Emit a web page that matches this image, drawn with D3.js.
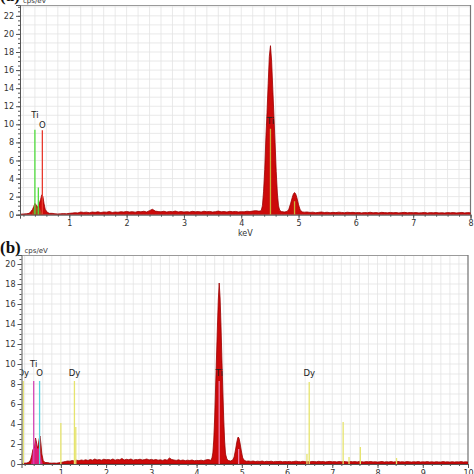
<!DOCTYPE html>
<html>
<head>
<meta charset="utf-8">
<script src="https://cdn.jsdelivr.net/npm/d3@7"></script>
<style>
  body { margin: 0; background: #fff; }
  svg { display: block; font-family: "DejaVu Sans", sans-serif; }
</style>
</head>
<body>
<svg id="chart" width="474" height="474"></svg>
<script>
// EDS spectra, panel (a) and panel (b)

// tick labels
const yTicksA = [0, 2, 4, 6, 8, 10, 12, 14, 16, 18, 20, 22];
const xTicksA = [1, 2, 3, 4, 5, 6, 7, 8];
const yTicksB = [0, 2, 4, 6, 8, 10, 12, 14, 16, 18, 20];
const xTicksB = [1, 2, 3, 4, 5, 6, 7, 8, 9, 10];

// background counts, every 0.05 keV from 0.15 keV (null = inside a peak)
const bgStart = 0.15, bgStep = 0.05;
const bgA = [
  0.05, 0.08, 0.1, 0.15,
  null, null, null, null, null, null, null,
  0.15, 0.1, 0.08, 0.1, 0.12, 0.1, 0.15,
  0.18, 0.22, 0.2, 0.3, 0.25, 0.28, 0.22, 0.3, 0.26, 0.32, 0.24, 0.3, 0.28, 0.35, 0.25, 0.3, 0.27, 0.33, 0.3, 0.36,
  0.3, 0.34, 0.28, 0.36, 0.32, 0.38, 0.3, 0.45, 0.6, 0.4, 0.35, 0.32, 0.38, 0.3, 0.36, 0.33, 0.4, 0.31, 0.35, 0.3,
  0.34, 0.3, 0.37, 0.32, 0.35, 0.3, 0.38, 0.33, 0.36, 0.3, 0.34, 0.4, 0.32, 0.35, 0.3, 0.37, 0.33, 0.36, 0.31, 0.34,
  0.32, 0.38, 0.35, 0.4, 0.45,
  null, null, null, null, null, null, null, null, null, null, null, null, null, null, null, null, null,
  0.3, 0.25, 0.28, 0.22, 0.26, 0.3, 0.24, 0.27, 0.22, 0.26, 0.23, 0.28, 0.25, 0.22, 0.27, 0.24, 0.26, 0.22,
  0.25, 0.2, 0.24, 0.22, 0.27, 0.21, 0.24, 0.2, 0.26, 0.23, 0.21, 0.25, 0.22, 0.24, 0.2, 0.23, 0.26, 0.21, 0.24, 0.22,
  0.23, 0.2, 0.22, 0.25, 0.19, 0.23, 0.21, 0.24, 0.2, 0.22, 0.19, 0.23, 0.21, 0.24, 0.2, 0.22, 0.25, 0.2, 0.23, 0.21
];
const bgB = [
  0.05, 0.08, 0.1, 0.2,
  null, null, null, null, null, null, null,
  0.15, 0.1, 0.08, 0.1, 0.08, 0.12, 0.15,
  0.2, 0.25, 0.3, 0.28, 0.35, 0.3, 0.38, 0.32, 0.4, 0.36, 0.42, 0.35, 0.45, 0.38, 0.5, 0.4, 0.44, 0.38, 0.48, 0.42,
  0.45, 0.4, 0.5, 0.38, 0.46, 0.42, 0.55, 0.4, 0.47, 0.43, 0.5, 0.38, 0.45, 0.42, 0.48, 0.4, 0.44, 0.5, 0.41, 0.46,
  0.4, 0.45, 0.38, 0.42, 0.36, 0.44, 0.38, 0.6, 0.45, 0.4, 0.36, 0.42, 0.35, 0.4, 0.33, 0.38, 0.35, 0.4, 0.32, 0.36,
  0.34, 0.38, 0.33, 0.4, 0.45,
  null, null, null, null, null, null, null, null, null, null, null, null, null, null, null, null, null,
  0.3, 0.26, 0.3, 0.24, 0.28, 0.25, 0.3, 0.23, 0.27, 0.24, 0.28, 0.22, 0.26, 0.24, 0.27, 0.22, 0.25, 0.23,
  0.26, 0.22, 0.25, 0.28, 0.24, 0.22, 0.27, 0.23, 0.25, 0.21, 0.26, 0.24, 0.22, 0.27, 0.23, 0.25, 0.21, 0.24, 0.26, 0.22,
  0.24, 0.21, 0.25, 0.22, 0.26, 0.23, 0.2, 0.25, 0.22, 0.24, 0.21, 0.26, 0.23, 0.2, 0.24, 0.22, 0.25, 0.21, 0.23, 0.2,
  0.22, 0.25, 0.2, 0.23, 0.21, 0.24, 0.2, 0.22, 0.26, 0.21, 0.23, 0.2, 0.24, 0.22, 0.2, 0.23, 0.21, 0.25, 0.2, 0.22,
  0.21, 0.24, 0.2, 0.22, 0.19, 0.23, 0.21, 0.2, 0.24, 0.21, 0.22, 0.19, 0.23, 0.2, 0.22, 0.21, 0.24, 0.2, 0.22, 0.2
];

// peaks as [keV, cps/eV]
const lowPeakA = [[0.30, 0.15], [0.33, 0.35], [0.36, 0.6], [0.38, 0.9], [0.40, 1.25], [0.42, 1.1], [0.44, 0.8], [0.46, 1.0],
  [0.48, 1.3], [0.50, 1.7], [0.52, 2.2], [0.54, 2.0], [0.56, 1.2], [0.58, 0.6], [0.61, 0.3], [0.65, 0.15]];
const tiPeakA = [[4.30, 0.4], [4.33, 0.4], [4.35, 0.5], [4.37, 1.0], [4.39, 2.6], [4.41, 5.0], [4.43, 8.5], [4.45, 11.3],
  [4.47, 14.5], [4.49, 17.5], [4.51, 18.7], [4.53, 17.0], [4.55, 14.0], [4.57, 11.0], [4.59, 8.0], [4.61, 4.8],
  [4.63, 2.4], [4.65, 1.0], [4.67, 0.5], [4.70, 0.35], [4.75, 0.3], [4.80, 0.35], [4.83, 0.6], [4.86, 1.2],
  [4.89, 1.9], [4.91, 2.3], [4.93, 2.45], [4.95, 2.3], [4.97, 1.9], [5.00, 1.1], [5.03, 0.5], [5.07, 0.3], [5.10, 0.28]];
const tiFitA = [[0.34, 0], [0.36, 0.3], [0.38, 0.7], [0.40, 1.1], [0.42, 1.0], [0.44, 0.7], [0.46, 0.9], [0.48, 0.8],
  [0.50, 0.5], [0.52, 0.2], [0.54, 0]];

const lowPeakB = [[0.30, 0.2], [0.33, 0.4], [0.36, 0.9], [0.38, 1.4], [0.40, 1.6], [0.42, 1.8], [0.44, 2.6], [0.46, 2.2],
  [0.48, 1.6], [0.50, 1.9], [0.52, 2.5], [0.54, 2.8], [0.56, 2.0], [0.58, 1.0], [0.61, 0.35], [0.65, 0.15]];
const tiPeakB = [[4.30, 0.4], [4.31, 0.35], [4.34, 0.6], [4.36, 1.1], [4.38, 2.4], [4.40, 4.6], [4.42, 7.6], [4.44, 10.6],
  [4.46, 13.6], [4.48, 16.4], [4.50, 18.1], [4.52, 16.6], [4.54, 13.8], [4.56, 10.5], [4.58, 7.4], [4.60, 4.5],
  [4.62, 2.3], [4.64, 1.0], [4.67, 0.5], [4.70, 0.35], [4.75, 0.3], [4.80, 0.4], [4.83, 0.7], [4.86, 1.4],
  [4.89, 2.2], [4.91, 2.6], [4.92, 2.7], [4.94, 2.55], [4.96, 2.1], [4.99, 1.3], [5.02, 0.6], [5.06, 0.35], [5.10, 0.28]];
const tiFitB = [[0.34, 0], [0.36, 0.5], [0.38, 1.3], [0.40, 1.5], [0.42, 1.6], [0.44, 2.6], [0.46, 2.0], [0.48, 1.5],
  [0.50, 1.6], [0.52, 1.5], [0.54, 1.2], [0.56, 0.8], [0.58, 0.3], [0.60, 0]];

// element marker lines: keV, height, colour, label, label height
const markersA = [
  { e: 0.40, h: 9.4, c: "#4fdc3c", label: "Ti", ly: 10.7 },
  { e: 0.46, h: 3.0, c: "#4fdc3c" },
  { e: 0.53, h: 9.35, c: "#e83a2e", label: "O", ly: 9.6 },
  { e: 4.51, h: 9.5, c: "#c9b43a", label: "Ti", ly: 10.0 },
  { e: 4.93, h: 1.5, c: "#c9b43a" }
];
const markersB = [
  { e: 0.17, h: 8.3, c: "#e6e46e", label: "Dy", ly: 8.8 },
  { e: 0.40, h: 8.3, c: "#d446b4", label: "Ti", ly: 9.7 },
  { e: 0.53, h: 8.3, c: "#5ad2de", label: "O", ly: 8.8 },
  { e: 1.00, h: 4.1, c: "#e6e46e" },
  { e: 1.30, h: 8.3, c: "#e6e46e", label: "Dy", ly: 8.8 },
  { e: 1.33, h: 3.7, c: "#e6e46e" },
  { e: 4.50, h: 8.3, c: "#f07aa6", label: "Ti", ly: 8.8 },
  { e: 4.93, h: 1.5, c: "#f07aa6" },
  { e: 6.44, h: 1.0, c: "#e6e46e" },
  { e: 6.49, h: 8.2, c: "#e6e46e", label: "Dy", ly: 8.8 },
  { e: 7.24, h: 4.2, c: "#e6e46e" },
  { e: 7.37, h: 0.7, c: "#e6e46e" },
  { e: 7.62, h: 1.7, c: "#e6e46e" },
  { e: 8.42, h: 0.6, c: "#e6e46e" }
];

function buildSpectrum(bg, peaks) {
  const pts = [];
  bg.forEach((v, i) => {
    if (v === null) return;
    const e = bgStart + i * bgStep;
    const inside = peaks.some(p => e >= p[0][0] - 1e-6 && e <= p[p.length - 1][0] + 1e-6);
    if (!inside) pts.push([e, v]);
  });
  peaks.forEach(p => p.forEach(d => pts.push(d)));
  return pts.sort((a, b) => a[0] - b[0]);
}

const svg = d3.select("#chart");

function drawPanel(cfg) {
  const x = d3.scaleLinear().domain(cfg.xDomain).range(cfg.xRange);
  const y = d3.scaleLinear().domain(cfg.yDomain).range(cfg.yRange);
  const g = svg.append("g");
  const [x0, x1] = cfg.xRange, [yb, yt] = cfg.yRange;

  // grid
  const gx = d3.range(Math.ceil(cfg.xDomain[0] / 0.2) * 0.2, cfg.xDomain[1] + 1e-6, 0.2);
  const gy = d3.range(1, cfg.yDomain[1], 1);
  g.selectAll(".gx").data(gx).join("line")
    .attr("x1", d => x(d)).attr("x2", d => x(d)).attr("y1", yt).attr("y2", yb)
    .attr("stroke", "#e3e3e3").attr("stroke-width", 0.8);
  g.selectAll(".gy").data(gy).join("line")
    .attr("x1", x0).attr("x2", x1).attr("y1", d => y(d)).attr("y2", d => y(d))
    .attr("stroke", "#e3e3e3").attr("stroke-width", 0.8);
  g.append("line").attr("x1", x0).attr("x2", x1).attr("y1", yt + 0.5).attr("y2", yt + 0.5)
    .attr("stroke", "#9a9a9a").attr("stroke-width", 1);
  g.append("line").attr("x1", x1).attr("x2", x1).attr("y1", yt).attr("y2", yb)
    .attr("stroke", "#777").attr("stroke-width", 1.2);

  const clipId = "clip" + cfg.id;
  svg.append("clipPath").attr("id", clipId).append("rect")
    .attr("x", x0).attr("y", yt).attr("width", x1 - x0).attr("height", yb - yt);
  const body = g.append("g").attr("clip-path", `url(#${clipId})`);

  const area = d3.area().x(d => x(d[0])).y0(y(0)).y1(d => y(d[1]));

  body.append("path").datum(cfg.spectrum)
    .attr("d", area).attr("fill", "#cc0a0a").attr("stroke", "#9c0000").attr("stroke-width", 0.8);
  body.append("path").datum(cfg.fit)
    .attr("d", area).attr("fill", cfg.fitColor).attr("opacity", 0.85);

  body.selectAll(".mk").data(cfg.markers).join("line")
    .attr("x1", d => x(d.e)).attr("x2", d => x(d.e))
    .attr("y1", y(0)).attr("y2", d => y(d.h))
    .attr("stroke", d => d.c).attr("stroke-width", 1.3);
  body.selectAll(".ml").data(cfg.markers.filter(d => d.label)).join("text")
    .attr("x", d => x(d.e)).attr("y", d => y(d.ly))
    .attr("text-anchor", "middle").attr("font-size", 8.5).attr("fill", "#222")
    .text(d => d.label);

  // axes
  g.append("g").attr("transform", `translate(${x0},0)`)
    .call(d3.axisLeft(y).tickValues(cfg.yTicks).tickSize(4).tickPadding(2).tickFormat(d3.format("d")));
  g.append("g").attr("transform", `translate(${x0},0)`)
    .call(d3.axisLeft(y).tickValues(d3.range(0, cfg.yDomain[1], 0.5)).tickSize(2).tickFormat(""))
    .call(a => a.select(".domain").remove());
  g.append("g").attr("transform", `translate(0,${yb})`)
    .call(d3.axisBottom(x).tickValues(cfg.xTicks).tickSize(4).tickPadding(2).tickFormat(d3.format("d")));
  g.append("g").attr("transform", `translate(0,${yb})`)
    .call(d3.axisBottom(x).tickValues(gx).tickSize(2).tickFormat(""))
    .call(a => a.select(".domain").remove());

  g.selectAll(".tick line").attr("stroke", "#555");
  g.selectAll(".domain").attr("stroke", "#555");
  g.selectAll(".tick text").attr("font-size", 8).attr("fill", "#333")
    .attr("font-family", "DejaVu Sans, sans-serif");

  g.append("text").attr("x", x0 + 3).attr("y", yt - 2)
    .attr("font-size", 7).attr("fill", "#333").text("cps/eV");
  g.append("text").attr("x", 0).attr("y", yt - cfg.tagLift)
    .attr("font-family", "Liberation Serif, serif").attr("font-weight", "bold")
    .attr("font-size", 17).attr("fill", "#111").text(cfg.tag);
  return { x, y };
}

const pA = drawPanel({
  id: "a", tag: "(a)", tagLift: 4,
  xDomain: [0.14, 8], xRange: [20, 470.5],
  yDomain: [0, 23.2], yRange: [214.7, 5],
  xTicks: xTicksA, yTicks: yTicksA,
  spectrum: buildSpectrum(bgA, [lowPeakA, tiPeakA]),
  fit: tiFitA, fitColor: "#a4561a",
  markers: markersA
});
svg.append("text").attr("x", pA.x(4.07)).attr("y", 236)
  .attr("text-anchor", "middle").attr("font-size", 8).attr("fill", "#333").text("keV");

drawPanel({
  id: "b", tag: "(b)", tagLift: 2,
  xDomain: [0.13, 10], xRange: [21.5, 468],
  yDomain: [0, 20.9], yRange: [464, 255],
  xTicks: xTicksB, yTicks: yTicksB,
  spectrum: buildSpectrum(bgB, [lowPeakB, tiPeakB]),
  fit: tiFitB, fitColor: "#e0208c",
  markers: markersB
});
</script>
</body>
</html>
